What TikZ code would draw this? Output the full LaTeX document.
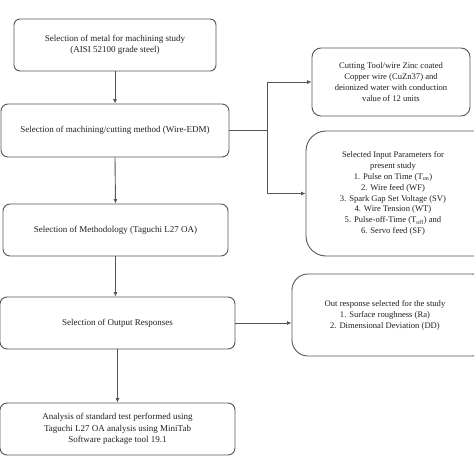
\documentclass[tikz,border=0pt]{standalone}
\usepackage{fontspec}
\setmainfont{Liberation Serif}
\usetikzlibrary{arrows.meta}
\definecolor{ln}{HTML}{555555}
\definecolor{tx}{HTML}{202020}
\begin{document}
\begin{tikzpicture}[x=1pt,y=-1pt,
  box/.style={draw=ln, line width=0.9pt, align=center, text=tx, inner sep=0pt,
    font=\fontsize{9}{11.4}\selectfont},
  rbox/.style={box, font=\fontsize{8.6}{10.9}\selectfont},
  lbl/.style={align=center, text=tx, inner sep=0pt, font=\fontsize{8.6}{10.9}\selectfont},
  arr/.style={draw=ln, line width=0.9pt, -{Latex[length=4.5pt,width=4pt]}},
  ln/.style={draw=ln, line width=0.9pt}]
\useasboundingbox (0,0) rectangle (474,474);
\fill[white] (0,0) rectangle (474,474);
\begin{scope}
\clip (0,0) rectangle (474,474);
\node[box, rounded corners=6pt, minimum width=202pt, minimum height=52pt] (b1) at (115,45)
  {Selection of metal for machining study\\(AISI 52100 grade steel)};
\node[box, rounded corners=7pt, minimum width=228pt, minimum height=53pt] (b2) at (115,130.5)
  {Selection of machining/cutting method (Wire-EDM)};
\node[box, rounded corners=7pt, minimum width=225pt, minimum height=52pt] (b3) at (115.5,230)
  {Selection of Methodology (Taguchi L27 OA)};
\node[box, rounded corners=7pt, minimum width=235pt, minimum height=52pt] (b4) at (117.5,323)
  {Selection of Output Responses};
\node[box, rounded corners=7pt, minimum width=235pt, minimum height=52pt] (b5) at (117.5,429)
  {Analysis of standard test performed using\\Taguchi L27 OA analysis using MiniTab\\Software package tool 19.1};
\node[rbox, rounded corners=9pt, minimum width=158pt, minimum height=68pt] (ba) at (391,82)
  {Cutting Tool/wire Zinc coated\\Copper wire (CuZn37) and\\deionized water with conduction\\value of 12 units};
\node[box, rounded corners=20pt, minimum width=190pt, minimum height=125pt] (bb) at (401,193.5) {};
\node[lbl] (tb) at (393,193.5)
  {Selected Input Parameters for\\present study\\1. Pulse on Time (T\textsubscript{on})\\2. Wire feed (WF)\\3. Spark Gap Set Voltage (SV)\\4. Wire Tension (WT)\\5. Pulse-off-Time (T\textsubscript{off}) and\\6. Servo feed (SF)};
\node[box, rounded corners=16pt, minimum width=196pt, minimum height=82pt] (bc) at (390,315) {};
\node[lbl] (tc) at (385,315)
  {Out response selected for the study\\1. Surface roughness (Ra)\\2. Dimensional Deviation (DD)};
\coordinate (br) at (267,130.5);
\draw[arr] (b1.south) -- (b2.north);
\draw[arr] (b2.south) -- (b3.north);
\draw[arr] (b3.south) -- (b3.south |- b4.north);
\draw[arr] (b4.south) -- (b5.north);
\draw[ln] (b2.east) -- (br);
\draw[arr] (br) |- (ba.west);
\draw[arr] (br) |- (bb.west);
\draw[arr] (b4.east) -- (b4.east -| bc.west);
\end{scope}
\end{tikzpicture}
\end{document}
